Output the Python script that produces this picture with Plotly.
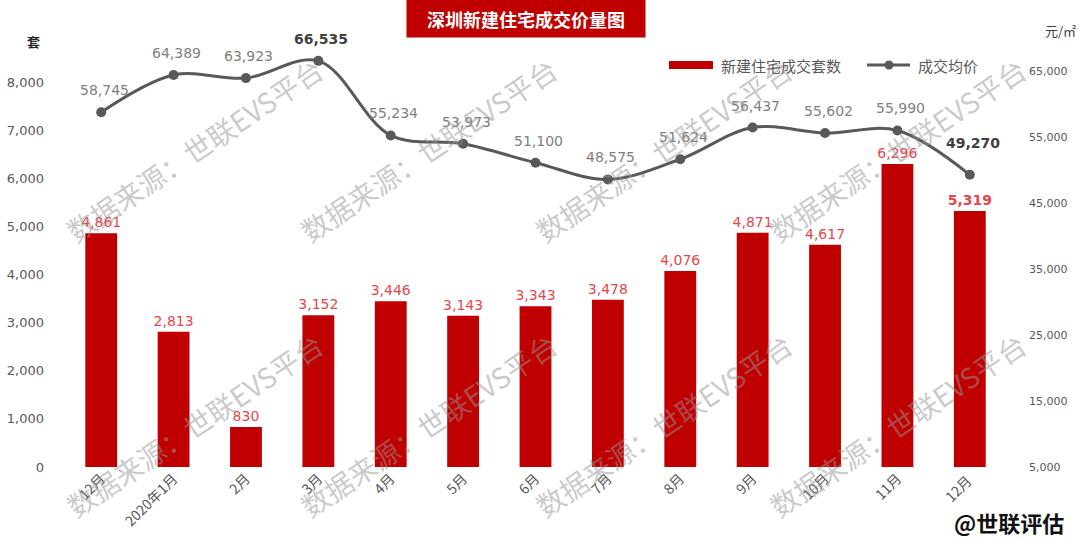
import plotly.graph_objects as go

# ---------------- data ----------------
months = ["12月", "2020年1月", "2月", "3月", "4月", "5月", "6月", "7月", "8月", "9月", "10月", "11月", "12月 "]
units = [4861, 2813, 830, 3152, 3446, 3143, 3343, 3478, 4076, 4871, 4617, 6296, 5319]
price = [58745, 64389, 63923, 66535, 55234, 53973, 51100, 48575, 51624, 56437, 55602, 55990, 49270]
left_ticks = [0, 1000, 2000, 3000, 4000, 5000, 6000, 7000, 8000]
right_ticks = [5000, 15000, 25000, 35000, 45000, 55000, 65000]

W, H = 1080, 538
L, R, T, B = 65, 1006, 34, 467  # plot area in pixels


def px(x):
    return (x - L) / (R - L)


def py(y):
    return (B - y) / (B - T)


RED = "#C00000"
LINE = "#595959"
LABEL_RED = "#E8464B"
NUMFONT = "DejaVu Sans, Verdana, Noto Sans CJK SC"
CJK = "Noto Sans CJK SC, Noto Sans, sans-serif"

bar_text = [f"{v:,}" for v in units]
bar_text[-1] = f"<b>{units[-1]:,}</b>"

fig = go.Figure()
fig.add_trace(go.Bar(
    x=months, y=units, name="新建住宅成交套数",
    marker=dict(color=RED, line=dict(width=0)),
    text=bar_text, textposition="outside", cliponaxis=False, constraintext="none",
    textfont=dict(family=NUMFONT, size=14, color=LABEL_RED),
    yaxis="y", showlegend=False,
))
fig.add_trace(go.Scatter(
    x=months, y=price, name="成交均价", yaxis="y2",
    mode="lines+markers",
    line=dict(color=LINE, width=3, shape="spline", smoothing=1.0),
    marker=dict(color=LINE, size=10),
    showlegend=False, cliponaxis=False,
))

annotations = []
# price labels
for i, (m, p) in enumerate(zip(months, price)):
    last = i == len(price) - 1
    top = p == max(price)
    txt = f"{p:,}"
    if last or top:
        txt = f"<b>{txt}</b>"
    annotations.append(dict(
        x=m, y=p, xref="x", yref="y2", text=txt, showarrow=False,
        xanchor="center", yanchor="middle",
        yshift=32 if last else 22, xshift=3,
        font=dict(family=NUMFONT, size=14, color="#404040" if (last or top) else "#808080"),
    ))

# watermarks
wm_text = "数据来源：世联EVS平台"
for cy in (150, 425):
    for cx in (194, 428, 663, 897):
        annotations.append(dict(
            x=px(cx), y=py(cy), xref="paper", yref="paper", text=wm_text,
            showarrow=False, textangle=-34, xanchor="center", yanchor="middle",
            font=dict(family=CJK, size=28, color="rgba(150,150,150,0.5)"),
        ))


def note(x, y, text, size, color, anchor="center", family=CJK):
    annotations.append(dict(
        x=px(x), y=py(y), xref="paper", yref="paper", text=text, showarrow=False,
        xanchor=anchor, yanchor="middle", font=dict(family=family, size=size, color=color),
    ))


# title box
annotations.append(dict(
    x=px(526), y=py(18.5), xref="paper", yref="paper",
    text="<b>深圳新建住宅成交价量图</b>", showarrow=False,
    bgcolor=RED, width=238, height=37, borderpad=0,
    xanchor="center", yanchor="middle",
    font=dict(family=CJK, size=18, color="white"),
))
note(33, 42, "<b>套</b>", 13, "#262626")
note(1060, 31, "元/㎡", 13, "#404040")
note(719, 65, "新建住宅成交套数", 15, LINE, anchor="left")
note(916, 65, "成交均价", 15, LINE, anchor="left")
note(1009, 522, "<b>@世联评估</b>", 22, "#111111")

shapes = [
    dict(type="rect", xref="paper", yref="paper", x0=px(669), x1=px(713), y0=py(69), y1=py(61),
         fillcolor=RED, line=dict(width=0)),
    dict(type="line", xref="paper", yref="paper", x0=px(867), x1=px(910), y0=py(65), y1=py(65),
         line=dict(color=LINE, width=3)),
    dict(type="circle", xref="paper", yref="paper", x0=px(884.5), x1=px(893.5), y0=py(69.5), y1=py(60.5),
         fillcolor=LINE, line=dict(width=0)),
]

fig.update_layout(
    width=W, height=H,
    margin=dict(l=L, r=W - R, t=T, b=H - B, autoexpand=False),
    paper_bgcolor="white", plot_bgcolor="white",
    bargap=0.56,
    showlegend=False,
    xaxis=dict(
        type="category", range=[-0.5, len(months) - 0.5], tickangle=-45, showgrid=False,
        showline=False, zeroline=False,
        ticks="", tickfont=dict(family=CJK, size=14, color=LINE), automargin=False,
    ),
    yaxis=dict(
        range=[0, 9000], tickvals=left_ticks, tickformat=",", showgrid=False, zeroline=False,
        showline=False, ticks="", ticklabelstandoff=20,
        tickfont=dict(family=NUMFONT, size=13, color=LINE), automargin=False,
    ),
    yaxis2=dict(
        overlaying="y", side="right", range=[5000, 70606], tickvals=right_ticks, tickformat=",",
        showgrid=False, zeroline=False, showline=False, ticks="", ticklabelstandoff=22,
        tickfont=dict(family=NUMFONT, size=11, color=LINE), automargin=False,
    ),
    annotations=annotations,
    shapes=shapes,
)

fig.write_html("out.html")
